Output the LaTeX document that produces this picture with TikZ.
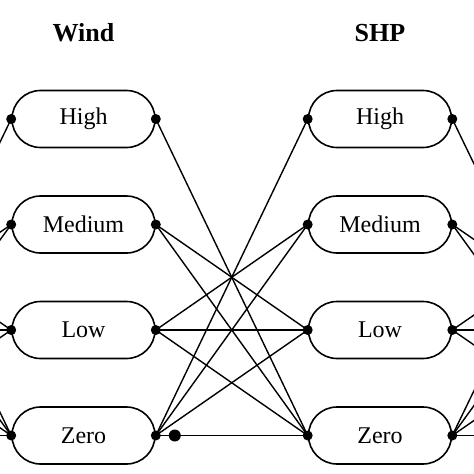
\documentclass[tikz,border=0pt]{standalone}
\usepackage{fontspec}
\setmainfont{Liberation Serif}
\usetikzlibrary{shapes.misc,positioning}
\tikzset{
  level/.style={
    draw,
    rounded rectangle,
    line width=1.6pt,
    minimum width=143pt,
    minimum height=57pt,
    inner sep=0pt,
    font=\fontsize{24}{28}\selectfont
  },
  column title/.style={
    font=\fontsize{26}{30}\selectfont\bfseries
  },
  joint/.style={
    circle,
    fill,
    inner sep=0pt,
    minimum size=10pt
  }
}

\begin{document}
\begin{tikzpicture}[%
            x=1pt,
            y=-1pt,
            line width=1.4pt,
            on grid,
            node distance=105.5pt and 296.5pt]
    \useasboundingbox (0,0) rectangle (474,474);
    \clip (0,0) rectangle (474,474);
    % wind levels
    \node[level] (w_h) at (83.5,119) {High};
    \node[level] (w_m) [below=of w_h] {Medium};
    \node[level] (w_l) [below=of w_m] {Low};
    \node[level] (w_z) [below=of w_l] {Zero};
    % shp levels
    \node[level] (s_h) [right=of w_h] {High};
    \node[level] (s_m) [right=of w_m] {Medium};
    \node[level] (s_l) [right=of w_l] {Low};
    \node[level] (s_z) [right=of w_z] {Zero};
    \node[column title] (t_w) [above=86pt of w_h] {Wind};
    \node[column title] (t_s) [above=86pt of s_h] {SHP};
    % neighbouring columns, outside the frame
    \coordinate (x_h) at ([xshift=-153pt]w_h.west);
    \coordinate (x_m) at ([xshift=-153pt]w_m.west);
    \coordinate (x_l) at ([xshift=-153pt]w_l.west);
    \coordinate (x_z) at ([xshift=-153pt]w_z.west);
    \coordinate (y_h) at ([xshift=153pt]s_h.east);
    \coordinate (y_m) at ([xshift=153pt]s_m.east);
    \coordinate (y_l) at ([xshift=153pt]s_l.east);
    \coordinate (y_z) at ([xshift=153pt]s_z.east);
    \path[draw]
    (w_h.east) edge (s_z.west)
    (w_m.east) edge (s_l.west)
    (w_m.east) edge (s_z.west)
    (w_l.east) edge (s_m.west)
    (w_l.east) edge (s_l.west)
    (w_l.east) edge (s_z.west)
    (w_z.east) edge (s_h.west)
    (w_z.east) edge (s_m.west)
    (w_z.east) edge (s_l.west)
    (w_z.east) edge (s_z.west)
    (x_z) edge (w_h.west)
    (x_l) edge (w_m.west)
    (x_z) edge (w_m.west)
    (x_m) edge (w_l.west)
    (x_l) edge (w_l.west)
    (x_z) edge (w_l.west)
    (x_h) edge (w_z.west)
    (x_m) edge (w_z.west)
    (x_l) edge (w_z.west)
    (x_z) edge (w_z.west)
    (s_h.east) edge (y_z)
    (s_m.east) edge (y_l)
    (s_m.east) edge (y_z)
    (s_l.east) edge (y_m)
    (s_l.east) edge (y_l)
    (s_l.east) edge (y_z)
    (s_z.east) edge (y_h)
    (s_z.east) edge (y_m)
    (s_z.east) edge (y_l)
    (s_z.east) edge (y_z);
    \foreach \n in {w_h,w_m,w_l,w_z,s_h,s_m,s_l,s_z} {
      \node[joint] at (\n.west) {};
      \node[joint] at (\n.east) {};
    }
    \node[joint, minimum size=12pt] (w_z_x) at ([xshift=19pt]w_z.east) {};
\end{tikzpicture}
\end{document}
